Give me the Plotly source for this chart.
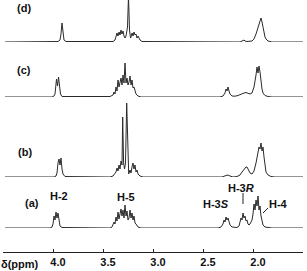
import plotly.graph_objects as go

# ---- data: chemical shift (ppm) and intensity for each spectrum ----
ppm_d = [4.48,3.95,3.93,3.92,3.91,3.90,3.89,3.87,
         3.40,3.38,3.37,3.36,3.35,3.34,3.33,3.32,3.31,3.30,3.29,3.28,3.27,3.255,3.245,3.235,3.225,3.22,3.21,3.20,3.19,3.18,3.17,3.16,3.15,3.14,3.13,3.11,
         2.13,2.10,2.09,2.08,2.06,
         2.01,1.99,1.97,1.95,1.94,1.93,1.92,1.91,1.90,1.89,1.88,1.87,1.85,1.81,1.50]
int_d = [0,0.5,2,8,19,8,2,0.5,
         0.5,2,5,9,6,10,7,12,8,11,6,4,6,15,46,12,4,5,9,6,10,7,8,4,6,3,2,0.5,
         0,1.5,2,1,0.5,
         1,3,8,14,18,22,24,20,14,8,5,3,1,0,0]

ppm_c = [4.48,4.01,3.99,3.98,3.965,3.955,3.945,3.935,3.925,3.91,
         3.43,3.40,3.39,3.38,3.37,3.36,3.35,3.34,3.33,3.32,3.31,3.30,3.29,3.28,3.27,3.26,3.25,3.24,3.23,3.22,3.21,3.20,3.19,3.18,3.17,3.15,3.12,
         2.33,2.30,2.28,2.27,2.26,2.25,2.24,2.23,2.21,2.18,
         2.15,2.12,2.09,2.07,2.05,2.03,2.01,1.99,1.97,1.96,1.95,1.94,1.93,1.92,1.91,1.90,1.88,1.85,1.81,1.50]
int_c = [0,0,1,3,18,11,20,8,3,0.5,
         0.5,2,5,3,10,6,17,10,14,19,12,22,14,34,14,19,12,15,21,12,17,9,10,5,3,1,0,
         0,1,4,8,6,10,6,3,1,0.8,
         1.5,3,4,4.5,3.5,3,4,10,22,30,24,31,25,15,8,4,1.5,0.5,0,0]

ppm_b = [4.48,3.99,3.97,3.96,3.95,3.94,3.93,3.92,3.91,3.90,3.88,
         3.43,3.40,3.38,3.37,3.36,3.35,3.34,3.33,3.32,3.31,3.303,3.294,3.285,3.275,3.263,3.252,3.243,3.23,3.22,3.21,3.20,3.19,3.18,3.17,3.16,3.15,3.13,3.10,
         2.31,2.27,2.25,2.23,2.20,
         2.16,2.13,2.11,2.09,2.07,2.06,2.05,2.03,2.01,1.99,1.97,1.95,1.94,1.93,1.92,1.91,1.90,1.89,1.88,1.87,1.85,1.82,1.78,1.50]
int_b = [0,0,1,4,14,18,12,19,8,3,0.5,
         0,1,3,5,9,6,12,8,16,12,60,14,8,14,74,12,3,7,4,10,14,8,12,5,7,3,1,0,
         0,1.5,2,1,0,
         0.5,2,5,8,10,10,8,4,3,6,14,26,30,28,34,26,30,20,10,5,2,0.5,0,0]

ppm_a = [4.48,4.03,4.01,4.00,3.99,3.98,3.97,3.96,3.95,3.94,3.93,3.91,
         3.43,3.41,3.40,3.39,3.38,3.37,3.36,3.35,3.34,3.33,3.32,3.31,3.30,3.29,3.28,3.27,3.26,3.25,3.24,3.23,3.22,3.21,3.20,3.19,3.18,3.17,3.15,3.12,
         2.35,2.32,2.30,2.29,2.28,2.27,2.26,2.25,2.24,2.23,2.21,2.18,
         2.16,2.14,2.13,2.12,2.11,2.10,2.09,2.08,2.07,2.06,2.05,2.04,2.03,2.01,2.00,1.99,1.98,1.97,1.96,1.95,1.94,1.93,1.92,1.91,1.90,1.88,1.85,1.81,1.50]
int_a = [0,0,1,4,12,8,16,10,15,6,2,0.5,
         0,1,3,6,4,11,7,16,9,14,19,12,18,10,23,12,17,8,10,18,10,15,8,12,5,4,1,0,
         0,1,4,8,6,11,8,10,5,3,1,0.5,
         0.5,2,5,10,8,15,10,12,7,8,4,3,4,8,14,24,18,28,22,32,18,22,12,6,3,1,0.5,0,0]

spectrum_labels = ["(a)", "(b)", "(c)", "(d)"]
tick_vals = [4.5, 4.0, 3.5, 3.0, 2.5, 2.0, 1.5]
tick_text = ["", "4.0", "3.5", "3.0", "2.5", "2.0", ""]

# ---- layout geometry (pixels) ----
W, H = 307, 271
ML, MR, MT, MB = 3, 4, 0, 19
PH = H - MT - MB          # plot height in px
PW = W - ML - MR
baselines_px = {"a": 228, "b": 177, "c": 97, "d": 42}   # baseline y (from top)

FONT = "Arial, Liberation Sans, sans-serif"
LINE = dict(color="#2a2a2a", width=1)

fig = go.Figure()
series = [("a", ppm_a, int_a, "y"), ("b", ppm_b, int_b, "y2"),
          ("c", ppm_c, int_c, "y3"), ("d", ppm_d, int_d, "y4")]
for name, xs, ys, yax in series:
    fig.add_trace(go.Scatter(x=xs, y=ys, mode="lines", line=LINE,
                             yaxis=yax, showlegend=False, hoverinfo="skip"))

layout_axes = {}
for i, (name, _, _, _) in enumerate(series):
    base = baselines_px[name]
    frac = (PH - base) / PH
    key = "yaxis" if i == 0 else f"yaxis{i+1}"
    layout_axes[key] = dict(domain=[frac, 1.0], range=[0, base],
                            visible=False, fixedrange=True, automargin=False)
    if i > 0:
        layout_axes[key]["anchor"] = "x"

fig.update_layout(
    template="none",
    width=W, height=H,
    margin=dict(l=ML, r=MR, t=MT, b=MB, autoexpand=False),
    paper_bgcolor="white", plot_bgcolor="white",
    xaxis=dict(range=[4.5, 1.5], tickvals=tick_vals, ticktext=tick_text,
               showgrid=False, zeroline=False, showline=True, automargin=False,
               linecolor="#222", linewidth=1, ticks="inside", ticklen=3,
               tickcolor="#222", ticklabelshift=-5,
               tickfont=dict(family=FONT, size=11, color="#111", weight="bold"),
               anchor="free", position=0, fixedrange=True),
    **layout_axes,
)

# panel labels
panel_pos = {"(d)": (24, 8), "(c)": (24, 70), "(b)": (25, 152), "(a)": (32, 203)}
for lab in spectrum_labels:
    px, py = panel_pos[lab]
    fig.add_annotation(text=f"<b>{lab}</b>", xref="paper", yref="paper",
                       x=(px - ML) / PW, y=(PH - py) / PH,
                       showarrow=False, xanchor="center", yanchor="middle",
                       font=dict(family=FONT, size=11, color="#111"))

# axis title
fig.add_annotation(text="<b>δ(ppm)</b>", xref="paper", yref="paper",
                   x=(20 - ML) / PW, y=(PH - 264) / PH,
                   showarrow=False, xanchor="center", yanchor="middle",
                   font=dict(family=FONT, size=11, color="#111"))

# peak assignments on spectrum (a)
assign = [("<b>H-2</b>", 3.94, 32), ("<b>H-5</b>", 3.27, 31),
          ("<b>H-3<i>S</i></b>", 2.37, 24), ("<b>H-3<i>R</i></b>", 2.12, 40),
          ("<b>H-4</b>", 1.75, 24)]
for txt, x, y in assign:
    fig.add_annotation(text=txt, x=x, y=y, xref="x", yref="y",
                       showarrow=False, xanchor="center", yanchor="middle",
                       font=dict(family=FONT, size=11, color="#111"))

fig.add_shape(type="line", xref="x", yref="y", x0=2.10, x1=2.10, y0=24, y1=35,
              line=dict(color="#222", width=1))
fig.add_shape(type="line", xref="x", yref="y", x0=1.90, x1=1.85, y0=15, y1=20,
              line=dict(color="#222", width=1))

fig.write_html("out.html", config={"displayModeBar": False, "staticPlot": True},
               post_script="document.body.style.margin='0';document.body.style.overflow='hidden';")
